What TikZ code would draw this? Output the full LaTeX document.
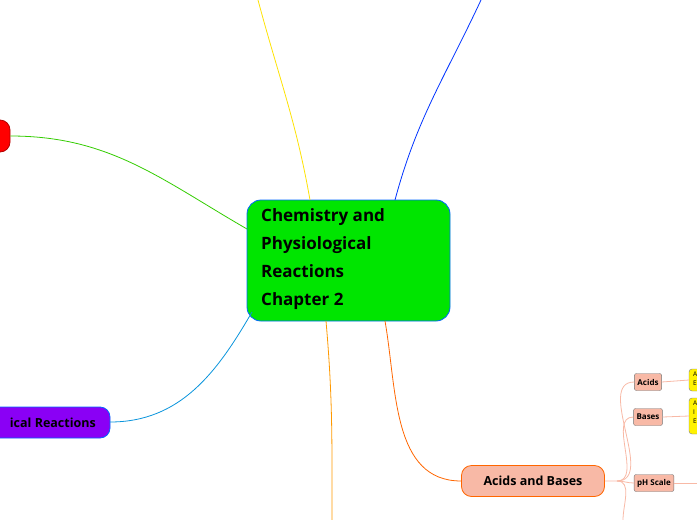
\documentclass[tikz,border=0pt]{standalone}
\usepackage{fontspec}
\setmainfont{Open Sans}
\definecolor{purp}{HTML}{8A00F5}
\definecolor{salmon}{HTML}{F8B9A6}
\begin{document}
\begin{tikzpicture}[x=1pt,y=-1pt,
  main/.style={draw=blue!60!cyan,line width=0.8pt,fill=green!90!black,rounded corners=14pt},
  sub/.style={draw=#1,line width=0.8pt,rounded corners=10pt,font=\bfseries\fontsize{12.5}{14}\selectfont},
  small/.style={draw=black!55,fill=salmon,rounded corners=2pt,font=\bfseries\fontsize{8}{9}\selectfont,minimum height=17pt,inner sep=3pt},
  yel/.style={draw=black!50,fill=yellow,rounded corners=3pt},
  ytxt/.style={anchor=north west,align=left,font=\fontsize{6.5}{9}\selectfont,inner sep=0pt},
  lnk/.style={line width=0.8pt}]
\useasboundingbox (0,0) rectangle (697,520);
\begin{scope}
\clip (0,0) rectangle (697,520);
\draw[main] (247,200) rectangle (450,321);
\node[anchor=north west,align=left,font=\bfseries\fontsize{17}{28}\selectfont,inner sep=0pt] (c) at (261,208) {Chemistry and\\Physiological\\Reactions\\Chapter 2};
\node[sub=red!70!black,fill=red,minimum width=40pt,minimum height=32pt] (r) at (-10,136) {};
\draw[sub=blue!60!cyan,fill=purp] (-60,407) rectangle (110,438);
\node[anchor=east,font=\bfseries\fontsize{12.5}{14}\selectfont,inner sep=0pt] (pt) at (96,423) {ical Reactions};
\coordinate (p) at (110,422);
\node[sub=orange!80!red,fill=salmon,minimum width=143pt,minimum height=31pt] (ab) at (533,481) {Acids and Bases};
\node[small] (a) at (648,382) {Acids};
\node[small] (b) at (648,417) {Bases};
\node[small] (ph) at (654,483) {pH Scale};
\draw[yel] (689,369) rectangle (705,391);
\draw[yel] (689,398) rectangle (705,434);
\node[ytxt] (ya) at (693,372) {A\\E};
\node[ytxt] (yb) at (693,401) {A\\I\\E};
\coordinate (y1) at (689,380);
\coordinate (y2) at (689,416);
\coordinate (phr) at (697,483);
\coordinate (bot) at (623,520);
\coordinate (t1) at (258,0);
\coordinate (t2) at (481,0);
\coordinate (b1) at (332,520);
\draw[lnk,green!60!olive] (r.east) to[out=0,in=150] (247,229);
\draw[lnk,cyan!80!blue] (p) to[out=0,in=240] (252,312);
\draw[lnk,yellow!85!orange] (t1) to[out=-75,in=100] (310,200);
\draw[lnk,blue!80!cyan] (t2) to[out=-115,in=75] (395,200);
\draw[lnk,orange!80!red] (385,321) to[out=-80,in=180] (ab.west);
\draw[lnk,orange!80!yellow] (326,321) to[out=-85,in=90] (b1);
\draw[lnk,salmon] (ab.east) -- (617,481) to[out=0,in=180] (a.west);
\draw[lnk,salmon] (617,481) to[out=0,in=180] (b.west);
\draw[lnk,salmon] (617,481) to[out=0,in=180] (ph.west);
\draw[lnk,salmon] (617,481) to[out=0,in=90] (bot);
\draw[lnk,salmon] (a.east) -- (y1);
\draw[lnk,salmon] (b.east) -- (y2);
\draw[lnk,salmon] (ph.east) -- (phr);
\end{scope}
\end{tikzpicture}
\end{document}
